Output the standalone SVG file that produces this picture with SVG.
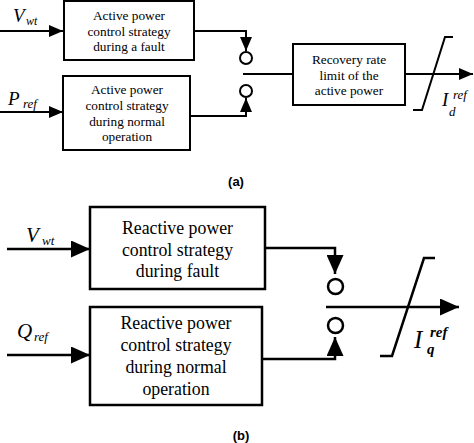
<svg xmlns="http://www.w3.org/2000/svg" width="474" height="443" viewBox="0 0 474 443">
<style>
.box{fill:#fff;stroke:#000;stroke-width:2}
.boxb{fill:#fff;stroke:#000;stroke-width:2.5}
.ln{fill:none;stroke:#000;stroke-width:2}
.lnb{fill:none;stroke:#000;stroke-width:2.5}
.ta{font-family:"Liberation Serif",serif;font-size:13.3px;text-anchor:middle;fill:#000}
.tb{font-family:"Liberation Serif",serif;font-size:17.8px;text-anchor:middle;fill:#000}
.m{font-family:"Liberation Serif",serif;font-style:italic;fill:#000}
.cap{font-family:"Liberation Sans",sans-serif;font-weight:bold;font-size:13px;text-anchor:middle;fill:#000}
</style>
<defs>
<marker id="ha" markerUnits="userSpaceOnUse" markerWidth="14" markerHeight="12" refX="14" refY="6" orient="auto"><path d="M0,0 L14,6 L0,12 z" fill="#000"/></marker>
<marker id="hb" markerUnits="userSpaceOnUse" markerWidth="19" markerHeight="17" refX="19" refY="8.5" orient="auto"><path d="M0,0 L19,8.5 L0,17 z" fill="#000"/></marker>
</defs>

<g id="connectors">
<!-- (a) -->
<path class="ln" d="M0,31 H63" marker-end="url(#ha)"/>
<path class="ln" d="M0,112 H63" marker-end="url(#ha)"/>
<path class="ln" d="M194,31 H246 V51" marker-end="url(#ha)"/>
<path class="ln" d="M190,116 H246 V98" marker-end="url(#ha)"/>
<path class="ln" d="M243,74 H293"/>
<path class="ln" d="M405,74 H473" marker-end="url(#ha)"/>
<!-- (b) -->
<path class="lnb" d="M7,249 H90" marker-end="url(#hb)"/>
<path class="lnb" d="M7,355 H90" marker-end="url(#hb)"/>
<path class="lnb" d="M265,248 H335 V274" marker-end="url(#hb)"/>
<path class="lnb" d="M262,359 H335 V337" marker-end="url(#hb)"/>
<path class="lnb" d="M326,307 H459" marker-end="url(#hb)"/>
</g>

<g id="switch-a">
<circle cx="246" cy="58" r="6" class="ln" fill="#fff"/>
<circle cx="246" cy="91" r="6" class="ln" fill="#fff"/>
</g>
<g id="switch-b">
<circle cx="335.5" cy="286.5" r="7.5" class="lnb"/>
<circle cx="335.5" cy="325.5" r="7.5" class="lnb"/>
</g>

<g id="box-a1">
<rect class="box" x="64" y="1" width="130" height="59"/>
<text class="ta" x="129" y="20">Active power</text>
<text class="ta" x="129" y="36">control strategy</text>
<text class="ta" x="129" y="51">during a fault</text>
</g>
<g id="box-a2">
<rect class="box" x="63" y="76" width="127" height="74"/>
<text class="ta" x="127" y="94">Active power</text>
<text class="ta" x="127" y="110">control strategy</text>
<text class="ta" x="127" y="126">during normal</text>
<text class="ta" x="127" y="141">operation</text>
</g>
<g id="box-a3">
<rect class="box" x="293" y="44" width="112" height="61"/>
<text class="ta" x="349" y="64">Recovery rate</text>
<text class="ta" x="349" y="80">limit of the</text>
<text class="ta" x="349" y="95">active power</text>
</g>
<g id="limiter-a">
<path class="ln" d="M413,110 H422 L445,37 H453"/>
</g>

<g id="box-b1">
<rect class="boxb" x="90" y="207" width="175" height="82"/>
<text class="tb" x="177.5" y="234">Reactive power</text>
<text class="tb" x="177.5" y="256">control strategy</text>
<text class="tb" x="177.5" y="277">during fault</text>
</g>
<g id="box-b2">
<rect class="boxb" x="90" y="307" width="172" height="98"/>
<text class="tb" x="176" y="329">Reactive power</text>
<text class="tb" x="176" y="351">control strategy</text>
<text class="tb" x="176" y="373">during normal</text>
<text class="tb" x="176" y="395">operation</text>
</g>
<g id="limiter-b">
<path class="lnb" d="M380,356 H392 L424,258 H435"/>
</g>

<g id="labels">
<text class="m" x="13" y="22" font-size="19">V</text>
<text class="m" x="26" y="25" font-size="12">wt</text>
<text class="m" x="8" y="105" font-size="19">P</text>
<text class="m" x="23" y="108" font-size="13">ref</text>
<text class="m" x="442" y="106" font-size="19">I</text>
<text class="m" x="453" y="99" font-size="13">ref</text>
<text class="m" x="449" y="116" font-size="13">d</text>

<text class="m" x="26" y="242" font-size="21">V</text>
<text class="m" x="42" y="245" font-size="13">wt</text>
<text class="m" x="17" y="338" font-size="21">Q</text>
<text class="m" x="34" y="341" font-size="13">ref</text>
<text class="m" x="414" y="348" font-size="25">I</text>
<text class="m" x="430" y="337" font-size="15" font-weight="bold">ref</text>
<text class="m" x="427" y="354" font-size="15" font-weight="bold">q</text>

<text class="cap" x="236" y="186">(a)</text>
<text class="cap" x="241" y="440">(b)</text>
</g>
</svg>
